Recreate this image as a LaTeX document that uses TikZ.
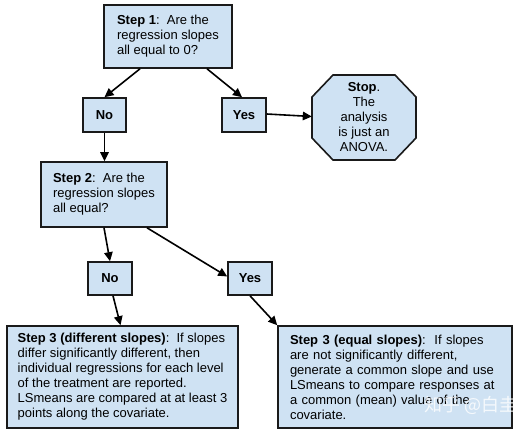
\documentclass[tikz,border=0pt]{standalone}
\usepackage{fontspec}
\setmainfont{Liberation Sans}
\newfontfamily\cjkfont{Noto Sans CJK SC}
\usetikzlibrary{arrows.meta,calc}
\definecolor{boxblue}{HTML}{CFE2F3}
\definecolor{edge}{HTML}{1A1A1A}
\tikzset{
  box/.style={draw=edge, line width=1.6pt, fill=boxblue, align=left, inner sep=0pt,
    font=\fontsize{13}{15}\selectfont},
  ans/.style={box, font=\fontsize{13}{15}\selectfont\bfseries},
  arr/.style={-{Triangle[length=9pt,width=8.5pt]}, line width=1.6pt, draw=black},
}
\begin{document}
\begin{tikzpicture}[x=1pt,y=-1pt]
\useasboundingbox (0,0) rectangle (518,434);
\fill[white] (0,0) rectangle (518,434);

\node[box, minimum width=128pt, minimum height=63pt] (step1) at (168,36.5)
  {\textbf{Step 1}:\ \ Are the\\regression slopes\\all equal to 0?};
\node[ans, minimum width=43pt, minimum height=34pt] (no1) at (104.5,115) {No};
\node[ans, minimum width=44pt, minimum height=34pt] (yes1) at (244,115) {Yes};
\node[box, minimum width=126pt, minimum height=65pt] (step2) at (104,194.5)
  {\textbf{Step 2}:\ \ Are the\\regression slopes\\all equal?};
\node[ans, minimum width=44pt, minimum height=33pt] (no2) at (110,278.5) {No};
\node[ans, minimum width=44pt, minimum height=33pt] (yes2) at (250,278.5) {Yes};
\node[box, minimum width=231pt, minimum height=102pt] (step3d) at (122.5,377)
  {\textbf{Step 3 (different slopes)}:\ \ If slopes\\
   differ significantly different, then\\
   individual regressions for each level\\
   of the treatment are reported.\\
   LSmeans are compared at at least 3\\
   points along the covariate.};
\node[box, minimum width=234pt, minimum height=102pt, text width=210pt] (step3e) at (395,377)
  {\textbf{Step 3 (equal slopes)}:\ \ If slopes\\
   are not significantly different,\\
   generate a common slope and use\\
   LSmeans to compare responses at\\
   a common (mean) value of the\\
   covariate.};

% octagon
\draw[line width=1.6pt, draw=edge, fill=boxblue]
  (333,75) -- (395,75) -- (416,97) -- (416,138) -- (395,160) -- (333,160)
  -- (312,138) -- (312,97) -- cycle;
\node[align=center, inner sep=0pt, minimum width=104pt, minimum height=85pt,
  font=\fontsize{13}{15}\selectfont] (stop) at (364,117.5)
  {\textbf{Stop}.\\The\\analysis\\is just an\\ANOVA.};

% connectors
\draw[arr] ([xshift=-28pt]step1.south) -- (no1.north);
\draw[arr] ([xshift=39pt]step1.south) -- ([xshift=-2pt]yes1.north);
\draw[arr] ([yshift=1pt]yes1.east) -- ([yshift=1pt]stop.west);
\draw[arr] (no1.south) -- (no1.south |- step2.north);
\draw[arr] (step2.south) -- (no2.north);
\draw[arr] ([xshift=43pt]step2.south) -- ([yshift=2pt]yes2.west);
\draw[arr] ([xshift=3pt]no2.south) -- ([xshift=-2pt]step3d.north);
\draw[arr] (yes2.south) -- (step3e.north west);

% watermark
\node[text=white, opacity=0.8, font=\cjkfont\fontsize{18}{18}\selectfont, anchor=west, inner sep=0pt]
  (wm) at (424,405) {知乎 @白圭};
\end{tikzpicture}
\end{document}
